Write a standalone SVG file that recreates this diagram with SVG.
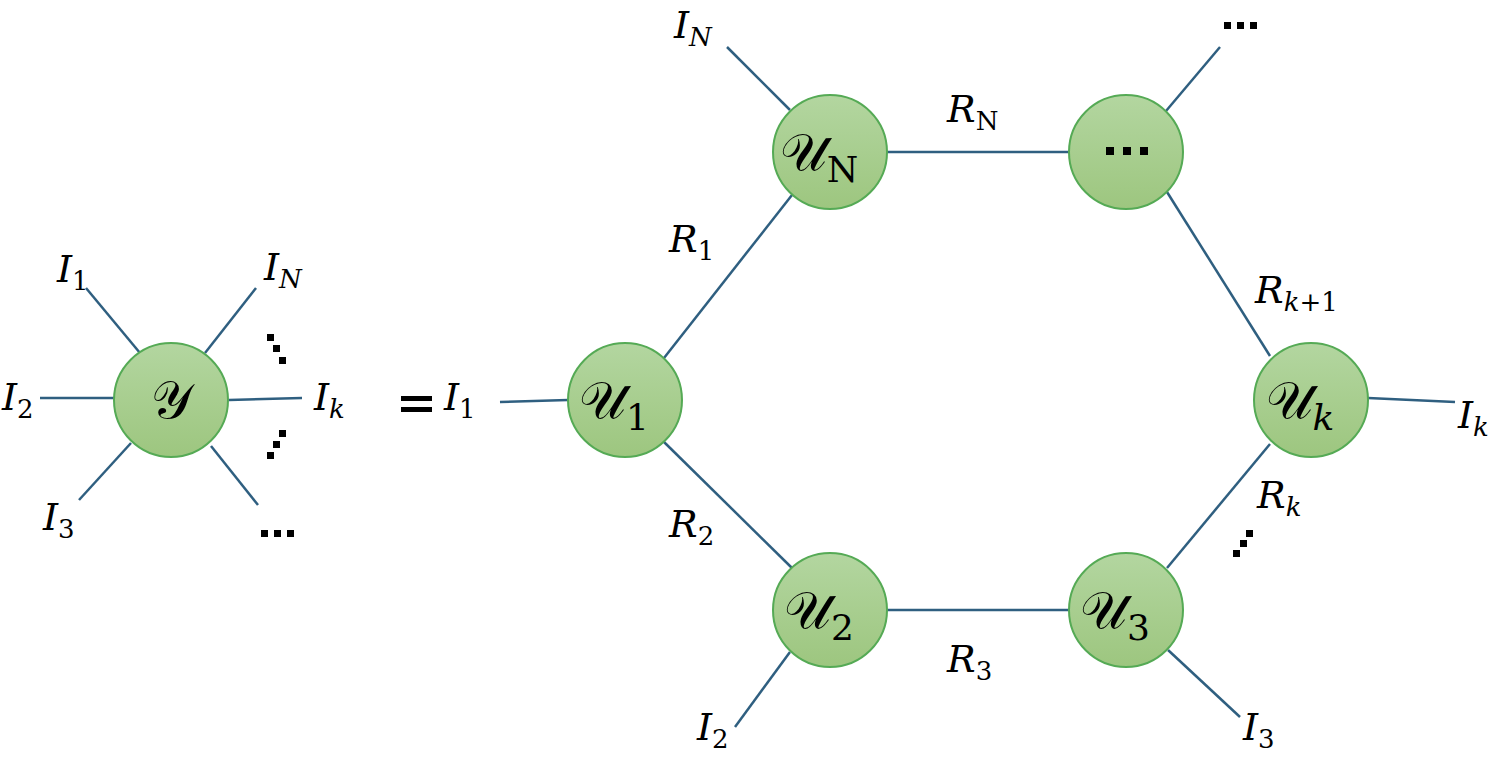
<svg xmlns="http://www.w3.org/2000/svg" width="1499" height="759" viewBox="0 0 1499 759">
<defs>
<linearGradient id="g" x1="0" y1="0" x2="0" y2="1">
<stop offset="0" stop-color="#b3d6a0"/>
<stop offset="1" stop-color="#9dc67f"/>
</linearGradient>
<style>
.n{fill:url(#g);stroke:#55aa55;stroke-width:2}
.e{stroke:#2f5f80;stroke-width:2.5;fill:none}
.l{font-family:"DejaVu Serif","Liberation Serif",serif;font-style:italic;font-size:38px;fill:#000}
.s{font-style:normal;font-size:26px}
.si{font-style:italic;font-size:26px}
.u{font-family:"DejaVu Serif","DejaVu Sans","Noto Sans",serif;font-size:52px;fill:#000;text-anchor:middle}
.us{font-family:"DejaVu Serif","Liberation Serif",serif;font-size:36px}
.d{fill:#000}
</style>
</defs>
<rect width="1499" height="759" fill="#fff"/>
<g id="connectors">
<line class="e" x1="86" y1="288" x2="140" y2="353"/>
<line class="e" x1="40" y1="398" x2="114" y2="398"/>
<line class="e" x1="256" y1="288" x2="205" y2="353"/>
<line class="e" x1="229" y1="400" x2="302" y2="398"/>
<line class="e" x1="79" y1="500" x2="131" y2="443"/>
<line class="e" x1="211" y1="446" x2="258" y2="505"/>
<line class="e" x1="500" y1="402" x2="568" y2="400"/>
<line class="e" x1="664" y1="358" x2="792" y2="195"/>
<line class="e" x1="664" y1="442" x2="792" y2="568"/>
<line class="e" x1="887" y1="152" x2="1069" y2="152"/>
<line class="e" x1="1167" y1="192" x2="1270" y2="356"/>
<line class="e" x1="887" y1="610" x2="1069" y2="610"/>
<line class="e" x1="1167" y1="568" x2="1270" y2="444"/>
<line class="e" x1="1368" y1="398" x2="1455" y2="402"/>
<line class="e" x1="727" y1="47" x2="790" y2="110"/>
<line class="e" x1="1220" y1="47" x2="1166" y2="111"/>
<line class="e" x1="735" y1="727" x2="790" y2="652"/>
<line class="e" x1="1168" y1="650" x2="1240" y2="717"/>
</g>
<g id="nodeY"><circle class="n" cx="171" cy="400" r="57"/><text class="u" x="171" y="418">𝒴</text></g>
<g id="nodeU1"><circle class="n" cx="625" cy="400" r="57"/><text class="u" x="614" y="418">𝒰<tspan class="us" dy="12">1</tspan></text></g>
<g id="nodeUN"><circle class="n" cx="830" cy="152" r="57"/><text class="u" x="819" y="170">𝒰<tspan class="us" dy="12">N</tspan></text></g>
<g id="nodeDots"><circle class="n" cx="1126" cy="152" r="57"/><rect class="d" x="1106" y="147" width="8" height="8"/><rect class="d" x="1123" y="147" width="8" height="8"/><rect class="d" x="1140" y="147" width="8" height="8"/></g>
<g id="nodeUk"><circle class="n" cx="1311" cy="400" r="57"/><text class="u" x="1300" y="418">𝒰<tspan class="us" font-style="italic" dy="12">k</tspan></text></g>
<g id="nodeU2"><circle class="n" cx="830" cy="610" r="57"/><text class="u" x="819" y="628">𝒰<tspan class="us" dy="12">2</tspan></text></g>
<g id="nodeU3"><circle class="n" cx="1126" cy="610" r="57"/><text class="u" x="1115" y="628">𝒰<tspan class="us" dy="12">3</tspan></text></g>
<g id="labels">
<text class="l" x="57" y="282">I<tspan class="s" dy="8">1</tspan></text>
<text class="l" x="264" y="280">I<tspan class="si" dy="8">N</tspan></text>
<text class="l" x="2" y="410">I<tspan class="s" dy="8">2</tspan></text>
<text class="l" x="314" y="410">I<tspan class="si" dy="8">k</tspan></text>
<text class="l" x="43" y="530">I<tspan class="s" dy="8">3</tspan></text>
<g class="d"><rect x="267" y="334" width="7" height="7"/><rect x="273" y="345" width="7" height="7"/><rect x="279" y="357" width="7" height="7"/>
<rect x="279" y="430" width="7" height="7"/><rect x="273" y="441" width="7" height="7"/><rect x="267" y="452" width="7" height="7"/>
<rect x="261" y="530" width="7" height="7"/><rect x="274" y="530" width="7" height="7"/><rect x="287" y="530" width="7" height="7"/></g>
<rect class="d" x="401" y="396" width="31" height="5"/><rect class="d" x="401" y="407" width="31" height="5"/>
<text class="l" x="444" y="410">I<tspan class="s" dy="8">1</tspan></text>
<text class="l" x="674" y="38">I<tspan class="si" dy="8">N</tspan></text>
<rect class="d" x="1224" y="22" width="7" height="7"/><rect class="d" x="1237" y="22" width="7" height="7"/><rect class="d" x="1250" y="22" width="7" height="7"/>
<text class="l" x="947" y="122">R<tspan class="s" dy="8">N</tspan></text>
<text class="l" x="669" y="252">R<tspan class="s" dy="8">1</tspan></text>
<text class="l" x="1255" y="303">R<tspan class="si" dy="8">k</tspan><tspan class="s">+1</tspan></text>
<text class="l" x="669" y="537">R<tspan class="s" dy="8">2</tspan></text>
<text class="l" x="947" y="672">R<tspan class="s" dy="8">3</tspan></text>
<text class="l" x="1257" y="508">R<tspan class="si" dy="8">k</tspan></text>
<rect class="d" x="1246" y="530" width="7" height="7"/><rect class="d" x="1240" y="540" width="7" height="7"/><rect class="d" x="1233" y="550" width="7" height="7"/>
<text class="l" x="697" y="740">I<tspan class="s" dy="8">2</tspan></text>
<text class="l" x="1243" y="740">I<tspan class="s" dy="8">3</tspan></text>
<text class="l" x="1458" y="428">I<tspan class="si" dy="8">k</tspan></text>
</g>
</svg>
